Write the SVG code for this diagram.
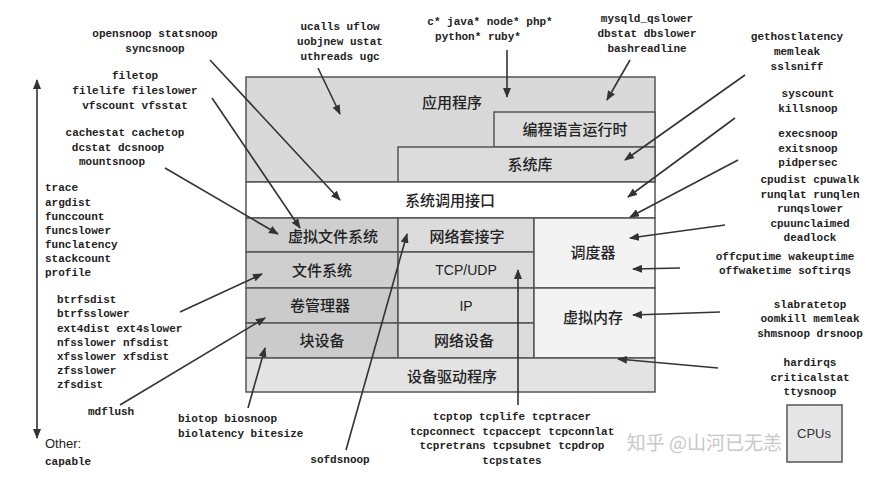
<svg xmlns="http://www.w3.org/2000/svg" width="885" height="480" viewBox="0 0 885 480">
<defs>
<marker id="ah" markerWidth="10" markerHeight="8" refX="9" refY="4" orient="auto" markerUnits="userSpaceOnUse"><path d="M0,0 L10,4 L0,8 z" fill="#333"/></marker>
<marker id="ahs" markerWidth="10" markerHeight="8" refX="1" refY="4" orient="auto" markerUnits="userSpaceOnUse"><path d="M10,0 L0,4 L10,8 z" fill="#333"/></marker>
<style>
.b{stroke:#555;stroke-width:1.5}
.zh{font-family:"Noto Sans CJK SC",sans-serif;font-size:15px;font-weight:500;fill:#222;text-anchor:middle}
.m{font-family:"Liberation Mono",monospace;font-size:11px;font-weight:bold;fill:#222}
.c{text-anchor:middle}
.l{stroke:#333;stroke-width:1.6;fill:none;marker-end:url(#ah)}
</style>
</defs>
<rect width="885" height="480" fill="#fff"/>
<g id="app"><rect x="246" y="77" width="409" height="105" fill="#d9d9d9" class="b"/><text x="452" y="108" class="zh">应用程序</text></g>
<g id="runtime"><rect x="494" y="112" width="161" height="35" fill="#dcdcdc" class="b"/><text x="575" y="135" class="zh">编程语言运行时</text></g>
<g id="syslib"><rect x="398" y="147" width="257" height="35" fill="#dcdcdc" class="b"/><text x="530" y="170" class="zh">系统库</text></g>
<g id="syscall"><rect x="246" y="182" width="409" height="36" fill="#fff" class="b"/><text x="450" y="206" class="zh">系统调用接口</text></g>
<g id="vfs"><rect x="246" y="218" width="152" height="34" fill="#cfcfcf" class="b"/><text x="333" y="242" class="zh">虚拟文件系统</text></g>
<g id="fs"><rect x="246" y="252" width="152" height="36" fill="#cfcfcf" class="b"/><text x="322" y="276" class="zh">文件系统</text></g>
<g id="volmgr"><rect x="246" y="288" width="152" height="35" fill="#cbcbcb" class="b"/><text x="320" y="311" class="zh">卷管理器</text></g>
<g id="blockdev"><rect x="246" y="323" width="152" height="35" fill="#cbcbcb" class="b"/><text x="322" y="346" class="zh">块设备</text></g>
<g id="socket"><rect x="398" y="218" width="136" height="34" fill="#dcdcdc" class="b"/><text x="467" y="242" class="zh">网络套接字</text></g>
<g id="tcpudp"><rect x="398" y="252" width="136" height="36" fill="#dcdcdc" class="b"/><text x="466" y="275" class="zh" style="font-family:'Liberation Sans',sans-serif;font-size:14px">TCP/UDP</text></g>
<g id="ip"><rect x="398" y="288" width="136" height="35" fill="#dedede" class="b"/><text x="466" y="311" class="zh" style="font-family:'Liberation Sans',sans-serif;font-size:14px">IP</text></g>
<g id="netdev"><rect x="398" y="323" width="136" height="35" fill="#dcdcdc" class="b"/><text x="464" y="346" class="zh">网络设备</text></g>
<g id="sched"><rect x="534" y="218" width="121" height="70" fill="#f3f3f3" class="b"/><text x="593" y="258" class="zh">调度器</text></g>
<g id="vm"><rect x="534" y="288" width="121" height="70" fill="#f3f3f3" class="b"/><text x="593" y="323" class="zh">虚拟内存</text></g>
<g id="drivers"><rect x="246" y="358" width="409" height="34" fill="#e3e3e3" class="b"/><text x="452" y="382" class="zh">设备驱动程序</text></g>
<g id="cpus"><rect x="787" y="405" width="55" height="57" fill="#e6e6e6" class="b"/><text x="814" y="438" font-family="Liberation Sans,sans-serif" font-size="13" fill="#333" text-anchor="middle">CPUs</text></g>
<g id="connectors">
<line x1="37" y1="80" x2="37" y2="438" class="l" style="marker-start:url(#ahs)"/>
<line x1="210" y1="60" x2="340" y2="200" class="l"/>
<line x1="318" y1="68" x2="340" y2="114" class="l"/>
<line x1="212" y1="98" x2="300" y2="228" class="l"/>
<line x1="165" y1="168" x2="278" y2="234" class="l"/>
<line x1="180" y1="312" x2="262" y2="274" class="l"/>
<line x1="120" y1="405" x2="265" y2="318" class="l"/>
<line x1="248" y1="408" x2="265" y2="348" class="l"/>
<line x1="346" y1="450" x2="407" y2="234" class="l"/>
<line x1="518" y1="405" x2="518" y2="270" class="l"/>
<line x1="507" y1="50" x2="507" y2="97" class="l"/>
<line x1="630" y1="60" x2="607" y2="100" class="l"/>
<line x1="745" y1="75" x2="625" y2="160" class="l"/>
<line x1="735" y1="118" x2="628" y2="197" class="l"/>
<line x1="738" y1="160" x2="630" y2="217" class="l"/>
<line x1="725" y1="225" x2="630" y2="238" class="l"/>
<line x1="680" y1="268" x2="633" y2="269" class="l"/>
<line x1="720" y1="312" x2="633" y2="315" class="l"/>
<line x1="718" y1="368" x2="618" y2="359" class="l"/>
</g>
<g id="labels" class="m">
<text x="155" y="37" class="c">opensnoop statsnoop</text><text x="155" y="52" class="c">syncsnoop</text>
<text x="340" y="30" class="c">ucalls uflow</text><text x="340" y="45" class="c">uobjnew ustat</text><text x="340" y="60" class="c">uthreads ugc</text>
<text x="490" y="25" class="c">c* java* node* php*</text><text x="478" y="40" class="c">python* ruby*</text>
<text x="647" y="22" class="c">mysqld_qslower</text><text x="647" y="37" class="c">dbstat dbslower</text><text x="647" y="52" class="c">bashreadline</text>
<text x="797" y="40" class="c">gethostlatency</text><text x="797" y="55" class="c">memleak</text><text x="797" y="70" class="c">sslsniff</text>
<text x="808" y="97" class="c">syscount</text><text x="808" y="112" class="c">killsnoop</text>
<text x="808" y="137" class="c">execsnoop</text><text x="808" y="152" class="c">exitsnoop</text><text x="808" y="166" class="c">pidpersec</text>
<text x="810" y="183" class="c">cpudist cpuwalk</text><text x="810" y="198" class="c">runqlat runqlen</text><text x="810" y="212" class="c">runqslower</text><text x="810" y="227" class="c">cpuunclaimed</text><text x="810" y="241" class="c">deadlock</text>
<text x="785" y="260" class="c">offcputime wakeuptime</text><text x="785" y="274" class="c">offwaketime softirqs</text>
<text x="810" y="308" class="c">slabratetop</text><text x="810" y="322" class="c">oomkill memleak</text><text x="810" y="337" class="c">shmsnoop drsnoop</text>
<text x="810" y="366" class="c">hardirqs</text><text x="810" y="381" class="c">criticalstat</text><text x="810" y="395" class="c">ttysnoop</text>
<text x="135" y="79" class="c">filetop</text><text x="135" y="94" class="c">filelife fileslower</text><text x="135" y="109" class="c">vfscount vfsstat</text>
<text x="125" y="136" class="c">cachestat cachetop</text><text x="118" y="151" class="c">dcstat dcsnoop</text><text x="112" y="165" class="c">mountsnoop</text>
<text x="45" y="191">trace</text><text x="45" y="206">argdist</text><text x="45" y="220">funccount</text><text x="45" y="234">funcslower</text><text x="45" y="248">funclatency</text><text x="45" y="262">stackcount</text><text x="45" y="276">profile</text>
<text x="57" y="303">btrfsdist</text><text x="57" y="317">btrfsslower</text><text x="57" y="332">ext4dist ext4slower</text><text x="57" y="346">nfsslower nfsdist</text><text x="57" y="360">xfsslower xfsdist</text><text x="57" y="374">zfsslower</text><text x="57" y="388">zfsdist</text>
<text x="88" y="415">mdflush</text>
<text x="178" y="422">biotop biosnoop</text><text x="178" y="437">biolatency bitesize</text>
<text x="340" y="463" class="c">sofdsnoop</text>
<text x="512" y="420" class="c">tcptop tcplife tcptracer</text><text x="512" y="435" class="c">tcpconnect tcpaccept tcpconnlat</text><text x="512" y="449" class="c">tcpretrans tcpsubnet tcpdrop</text><text x="512" y="464" class="c">tcpstates</text>
<text x="45" y="448" font-family="Liberation Sans,sans-serif" font-weight="normal" font-size="13">Other:</text>
<text x="45" y="465">capable</text>
</g>
<text x="782" y="450" font-family="Noto Sans CJK SC,sans-serif" font-size="19" fill="#bbb" text-anchor="end" opacity="0.8">知乎 @山河已无恙</text>
</svg>
